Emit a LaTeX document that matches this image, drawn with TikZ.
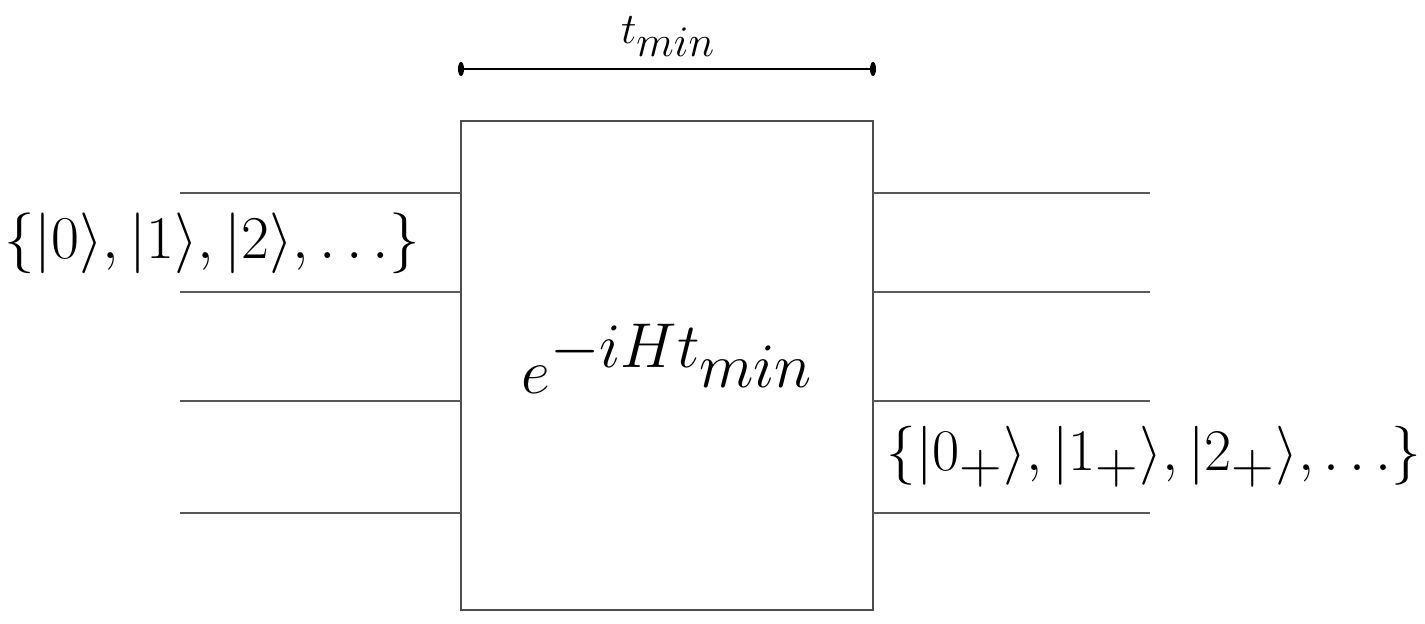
\documentclass[tikz,border=0pt]{standalone}
\usepackage{tikz}
\usetikzlibrary{positioning}
\tikzset{
	every node/.style={
		font=\fontsize{37}{42}\selectfont
	},
	wire/.style={
		draw=gray!70!black,
		line width=0.6pt
	},
	gate/.style={
		draw=gray!60!black,
		line width=1pt
	}
}
\begin{document}
\begin{tikzpicture}
	\useasboundingbox (0,0) rectangle (28.5,12.48);
	
	\draw[gate] (9.22,0.28) rectangle (17.46,10.06);
	\node[scale=1.45] (U) at (13.36,5.3) {\fontsize{68}{72}\selectfont $e^{-iHt_{min}}$};
	
	\foreach \y [count=\k] in {8.62,6.64,4.46,2.22} {
		\coordinate (inA\k) at (3.6,\y);
		\coordinate (inB\k) at (9.22,\y);
		\coordinate (outA\k) at (17.46,\y);
		\coordinate (outB\k) at (23.0,\y);
		\draw[wire] (inA\k) -- (inB\k);
		\draw[wire] (outA\k) -- (outB\k);
	}
	
	\coordinate (barL) at (9.22,11.1);
	\coordinate (barR) at (17.46,11.1);
	\draw[line width=0.6pt] (barL) -- (barR);
	\fill (barL) ellipse (0.06 and 0.14);
	\fill (barR) ellipse (0.06 and 0.14);
	\node (tmin) at (13.36,11.75) {\fontsize{36}{40}\selectfont $t_{min}$};
	
	\node[scale=1.39] (inlbl) at (4.24,7.62) {$\{|0\rangle, |1\rangle, |2\rangle, \dots\}$};
	\node[scale=1.35] (outlbl) at (23.08,3.34) {$\{|0_+\rangle, |1_+\rangle, |2_+\rangle, \dots\}$};
\end{tikzpicture}
\end{document}
